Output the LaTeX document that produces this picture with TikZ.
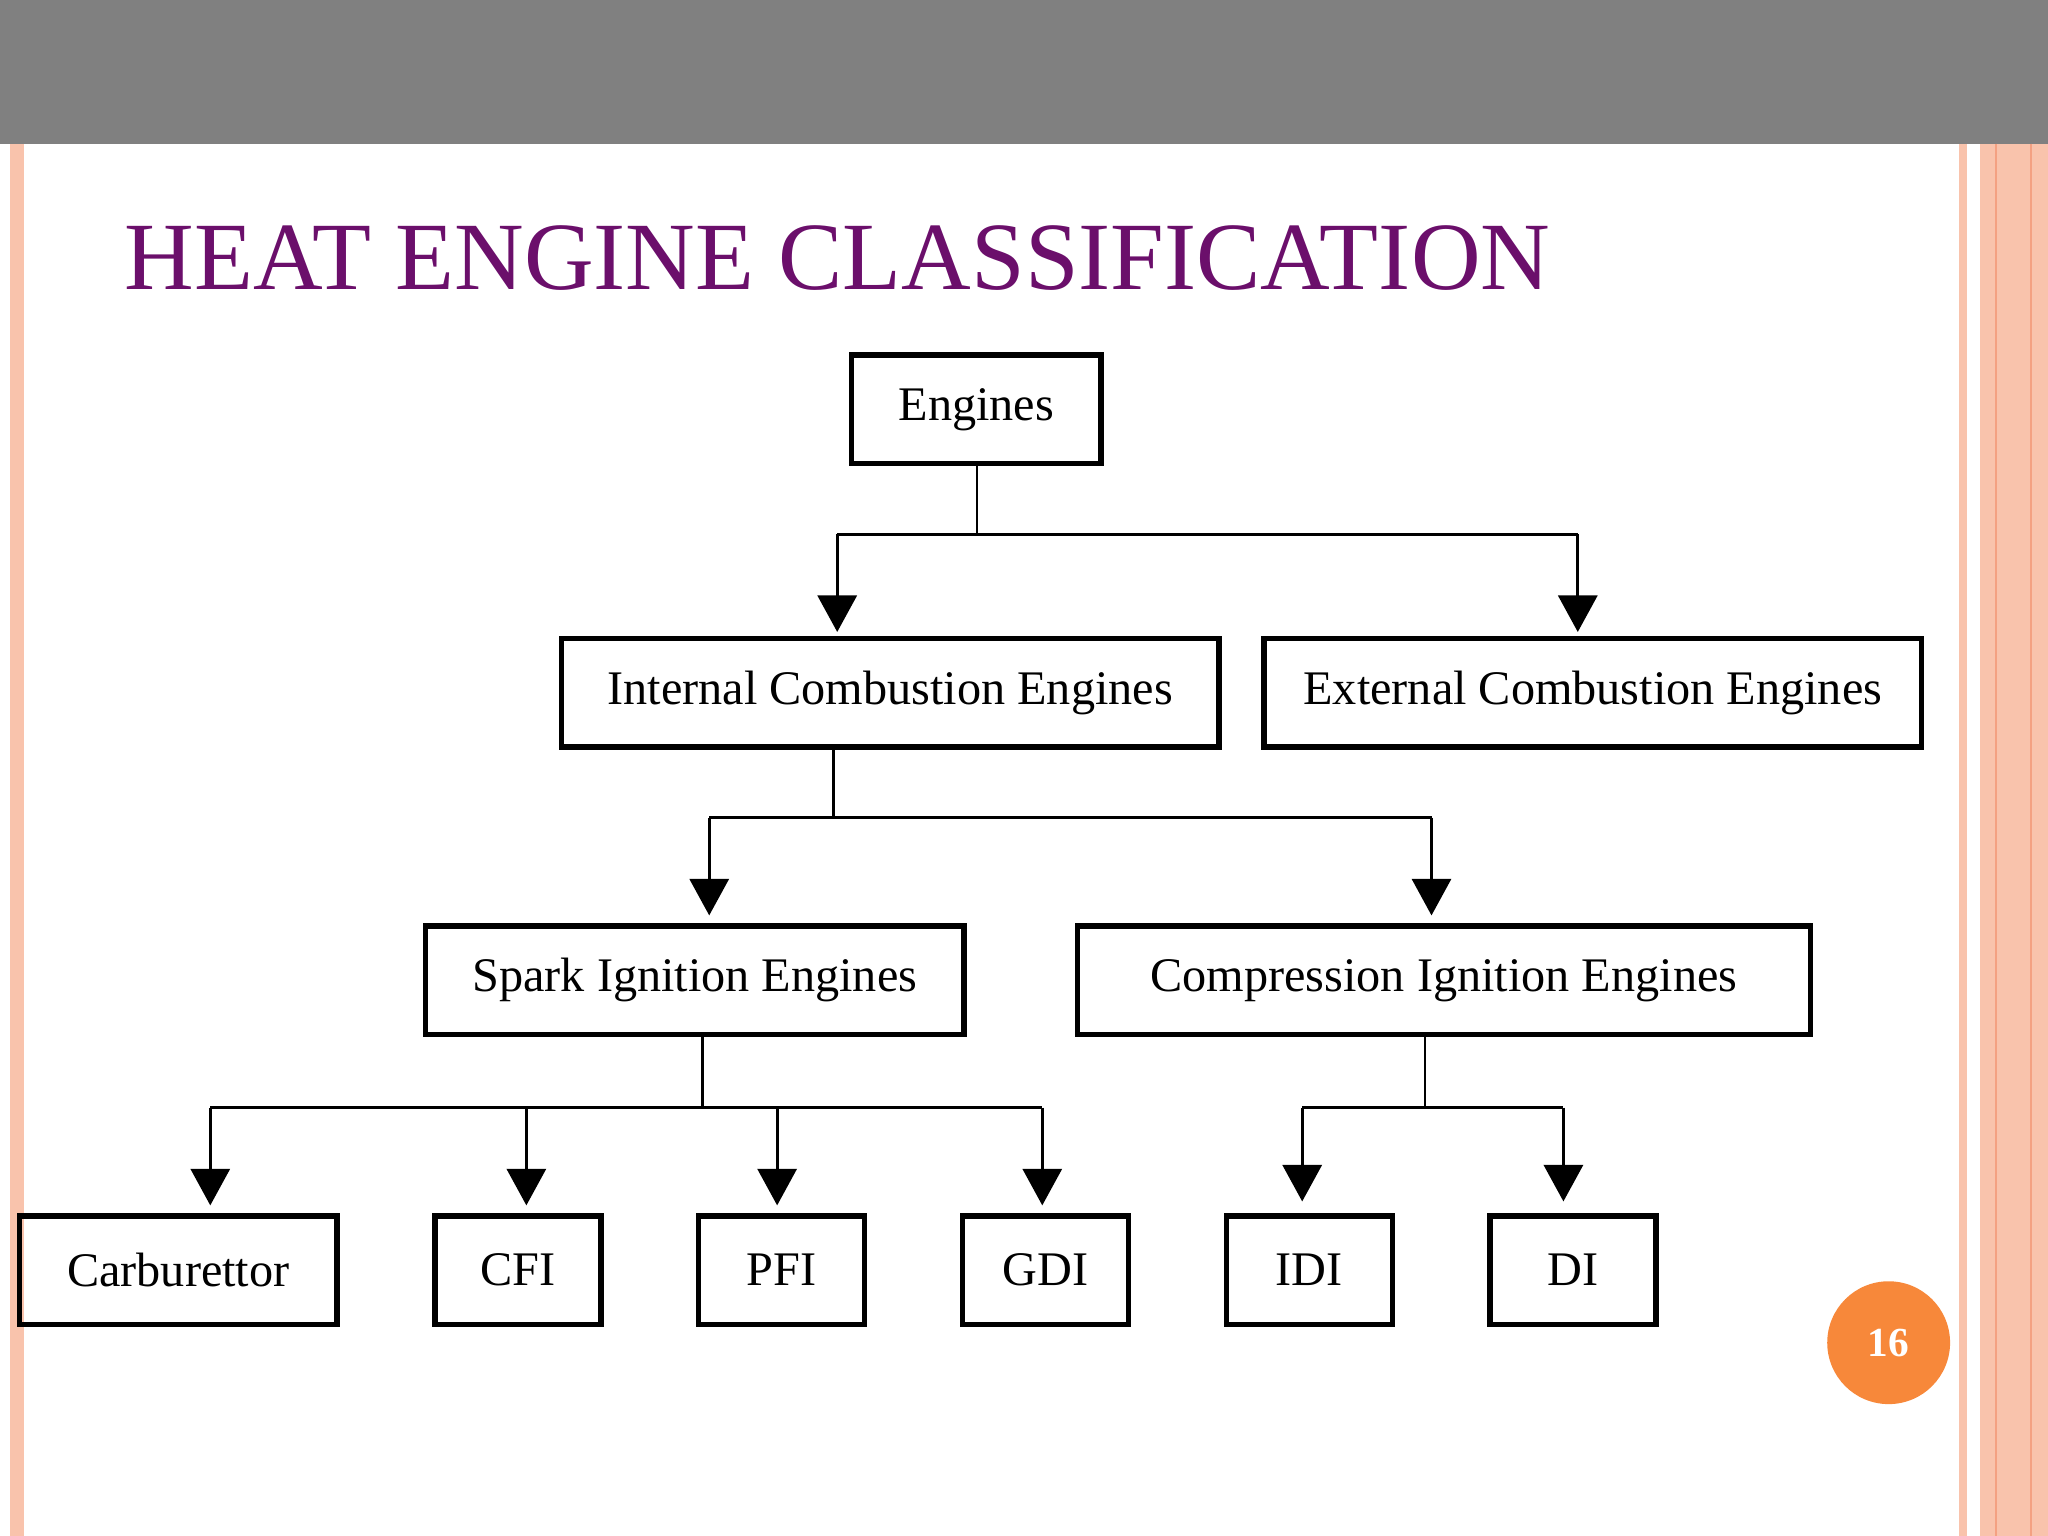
\documentclass[tikz,border=0pt]{standalone}
\usepackage{fontspec}
\setmainfont{Liberation Serif}
\usetikzlibrary{arrows.meta}
\definecolor{titlepurple}{HTML}{6B0F6B}
\definecolor{stripe}{HTML}{F9C3AC}
\definecolor{stripedark}{HTML}{F4A182}
\definecolor{badge}{HTML}{F7883A}
\begin{document}
\begin{tikzpicture}[x=0.01cm, y=-0.01cm, >={Triangle[length=0.28cm,width=0.3cm]},
	box/.style={draw, line width=1.2pt, minimum height=0.83cm, inner sep=0pt, font=\fontsize{10.5pt}{12pt}\selectfont},
	link/.style={line width=0.6pt}]
	% page frame
	\useasboundingbox (0,0) rectangle (1568,1176);
	\fill[black!50] (0,0) rectangle (1568,110);
	\fill[stripe] (8,110) rectangle (18,1176);
	\fill[stripe] (1500,110) rectangle (1506,1176);
	\fill[stripe] (1516,110) rectangle (1568,1176);
	\draw[stripedark, line width=0.5pt] (1528,110) -- (1528,1176);
	\draw[stripedark, line width=0.5pt] (1555,110) -- (1555,1176);
	\node[anchor=base west, text=titlepurple, inner sep=0pt, font=\fontsize{21pt}{24pt}\selectfont] (title) at (95,222) {HEAT ENGINE CLASSIFICATION};

	% boxes
	\node[box, minimum width=1.91cm] (eng) at (747.5,313.5) {Engines};
	\node[box, minimum width=5.03cm] (ice) at (681.5,530.5) {Internal Combustion Engines};
	\node[box, minimum width=5.03cm] (ece) at (1219.5,530.5) {External Combustion Engines};
	\node[box, minimum width=4.12cm] (sie) at (532,750.5) {Spark Ignition Engines};
	\node[box, minimum width=5.61cm] (cie) at (1105.5,750.5) {Compression Ignition Engines};
	\node[box, minimum width=2.43cm] (carb) at (136.5,972.5) {Carburettor};
	\node[box, minimum width=1.27cm] (cfi) at (396.5,972.5) {CFI};
	\node[box, minimum width=1.27cm] (pfi) at (598.5,972.5) {PFI};
	\node[box, minimum width=1.27cm] (gdi) at (800.5,972.5) {GDI};
	\node[box, minimum width=1.27cm] (idi) at (1002.5,972.5) {IDI};
	\node[box, minimum width=1.27cm] (di) at (1204.5,972.5) {DI};

	% junctions
	\coordinate (e1) at (748,409);
	\coordinate (e2) at (641,409);
	\coordinate (e3) at (1208,409);
	\coordinate (i1) at (638,626);
	\coordinate (i2) at (543,626);
	\coordinate (i3) at (1096,626);
	\coordinate (s1) at (538,848);
	\coordinate (s2) at (161,848);
	\coordinate (s3) at (403,848);
	\coordinate (s4) at (595,848);
	\coordinate (s5) at (798,848);
	\coordinate (c1) at (1091,848);
	\coordinate (c2) at (997,848);
	\coordinate (c3) at (1197,848);

	% connectors
	\draw[link] (eng.south -| e1) -- (e1);
	\draw[link] (e2) -- (e3);
	\draw[link, ->] (e2) -- ([yshift=0.03cm]e2 |- ice.north);
	\draw[link, ->] (e3) -- ([yshift=0.03cm]e3 |- ece.north);
	\draw[link] (ice.south -| i1) -- (i1);
	\draw[link] (i2) -- (i3);
	\draw[link, ->] (i2) -- ([yshift=0.06cm]i2 |- sie.north);
	\draw[link, ->] (i3) -- ([yshift=0.06cm]i3 |- cie.north);
	\draw[link] (sie.south -| s1) -- (s1);
	\draw[link] (s2) -- (s5);
	\foreach \j/\n in {s2/carb, s3/cfi, s4/pfi, s5/gdi}
		\draw[link, ->] (\j) -- ([yshift=0.06cm]\j |- \n.north);
	\draw[link] (cie.south -| c1) -- (c1);
	\draw[link] (c2) -- (c3);
	\foreach \j/\n in {c2/idi, c3/di}
		\draw[link, ->] (\j) -- ([yshift=0.09cm]\j |- \n.north);

	% page number
	\node[circle, fill=badge, minimum size=0.94cm, text=white, font=\bfseries\fontsize{9pt}{10pt}\selectfont] (page) at (1446,1028) {16};
\end{tikzpicture}
\end{document}
